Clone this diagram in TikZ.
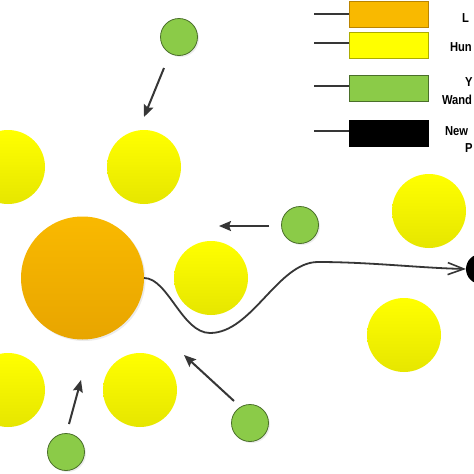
\documentclass[tikz,border=0pt]{standalone}
\usepackage{fontspec}
\setmainfont{Liberation Sans}
\newfontfamily\lblfont[FakeStretch=0.86]{Liberation Sans}
\usetikzlibrary{arrows.meta}
\definecolor{ylTop}{HTML}{FFFF00}
\definecolor{ylBot}{HTML}{E6E600}
\definecolor{orTop}{HTML}{F9B900}
\definecolor{orBot}{HTML}{E8A500}
\definecolor{grFill}{HTML}{8BCB48}
\definecolor{grDraw}{HTML}{4A6F2A}
\definecolor{arr}{HTML}{363636}
\tikzset{
  yel/.style={circle, inner sep=0pt, outer sep=0pt, minimum size=74pt, top color=ylTop, bottom color=ylBot, draw=none},
  org/.style={circle, inner sep=0pt, outer sep=0pt, minimum size=123pt, top color=orTop, bottom color=orBot, draw=none},
  grn/.style={circle, inner sep=0pt, outer sep=0pt, minimum size=37pt, fill=grFill, draw=grDraw, line width=0.8pt},
  blk/.style={circle, inner sep=0pt, outer sep=0pt, minimum size=30pt, fill=black},
  shad/.style={circle, inner sep=0pt, fill=black!8},
  lrect/.style={rectangle, inner sep=0pt, outer sep=0pt, minimum width=79pt, minimum height=26pt, line width=0.8pt},
  lline/.style={draw=arr, line width=1.2pt},
  lbl/.style={inner sep=0pt, outer sep=0pt, anchor=west, font=\lblfont\bfseries\fontsize{13}{15}\selectfont},
  mv/.style={draw=arr, line width=2pt, -{Stealth[length=12pt,width=10pt,inset=2pt]}},
  path/.style={draw=arr, line width=1.8pt, -{Straight Barb[length=16pt,width=12pt,line width=1.6pt]}}
}
\begin{document}
\begin{tikzpicture}[x=1pt,y=-1pt]
\clip (0,0) rectangle (474,474);
\fill[white] (0,0) rectangle (474,474);
% shadows
\node[shad, minimum size=123pt] at (84,279.5) {};
% yellow circles
\node[yel] (yTL) at (8,167) {};
\node[yel] (yTM) at (144,167) {};
\node[yel] (yM) at (211,278) {};
\node[yel] (yR1) at (429,211) {};
\node[yel] (yR2) at (404,335) {};
\node[yel] (yBL) at (8,390) {};
\node[yel] (yBM) at (140,390) {};
% big orange
\node[org] (big) at (82.5,278) {};
% green circles
\node[shad, minimum size=37pt] at (180.5,38.5) {};
\node[shad, minimum size=37pt] at (301.5,226.5) {};
\node[shad, minimum size=37pt] at (67.5,453.5) {};
\node[shad, minimum size=37pt] at (251.5,424.5) {};
\node[grn] (gT) at (179,37) {};
\node[grn] (gM) at (300,225) {};
\node[grn] (gBL) at (66,452) {};
\node[grn] (gBR) at (250,423) {};
% black new point
\node[blk] (np) at (481,269) {};
% movement arrows
\coordinate (a1s) at (164,68);  \coordinate (a1e) at (144,117);
\coordinate (a2s) at (269,226); \coordinate (a2e) at (219,226);
\coordinate (a3s) at (69,424);  \coordinate (a3e) at (81,380);
\coordinate (a4s) at (234,401); \coordinate (a4e) at (184,355);
\draw[mv] (a1s) -- (a1e);
\draw[mv] (a2s) -- (a2e);
\draw[mv] (a3s) -- (a3e);
\draw[mv] (a4s) -- (a4e);
% path from leader to new point
\draw[path] (big.east) .. controls (168,278) and (182,333) .. (210,333)
  .. controls (252,333) and (278,262) .. (318,262)
  .. controls (370,262) and (420,268) .. (np.west);
% legend
\node[lrect, fill=orTop, draw=orBot!80!black] (lO) at (388.5,14) {};
\node[lrect, fill=ylTop, draw=ylBot!75!black] (lY) at (388.5,45) {};
\node[lrect, fill=grFill, draw=grDraw] (lG) at (388.5,88) {};
\node[lrect, fill=black, draw=black] (lB) at (388.5,133) {};
\coordinate (c1) at (314,14);
\coordinate (c2) at (314,43);
\coordinate (c3) at (314,86);
\coordinate (c4) at (314,131);
\draw[lline] (c1) -- (c1 -| lO.west);
\draw[lline] (c2) -- (c2 -| lY.west);
\draw[lline] (c3) -- (c3 -| lG.west);
\draw[lline] (c4) -- (c4 -| lB.west);
\node[lbl] (t1) at (462,18) {L};
\node[lbl] (t2) at (450,47) {Hun};
\node[lbl] (t3) at (465,82) {Y};
\node[lbl] (t4) at (442,100) {Wand};
\node[lbl] (t5) at (445,131) {New};
\node[lbl] (t6) at (465,148) {P};
\end{tikzpicture}
\end{document}
